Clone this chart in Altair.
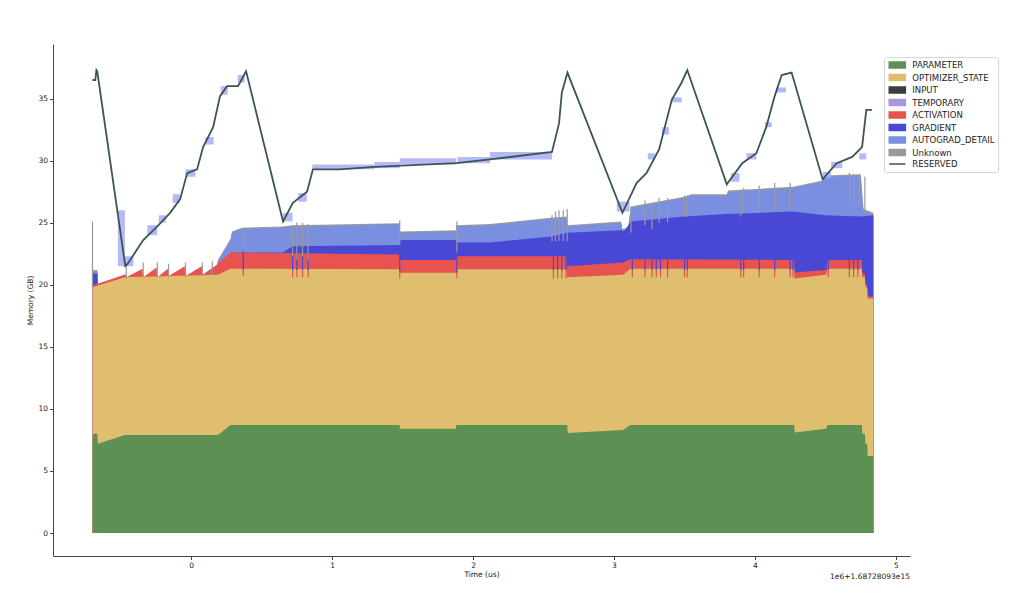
import altair as alt
import pandas as pd

# ---------------- data ----------------
categories = ["PARAMETER", "OPTIMIZER_STATE", "INPUT", "TEMPORARY", "ACTIVATION",
              "GRADIENT", "AUTOGRAD_DETAIL", "Unknown", "RESERVED"]
colors = ["#5d9053", "#dfbe70", "#3c3c3c", "#a896de", "#e8534f",
          "#4848d4", "#7a8fe0", "#9a9a9a", "#3b5552"]

# cumulative top of each stacked band (GB) vs time (1e6 us offset)
param_t = [-0.700, -0.697, -0.665, -0.662, -0.470, 0.190, 0.280, 1.479, 1.481, 1.879, 1.881,
           2.668, 2.672, 3.065, 3.115, 4.279, 4.281, 4.505, 4.515, 4.758, 4.762, 4.780, 4.784,
           4.796, 4.800, 4.840]
param_v = [7.3, 8.0, 8.0, 7.2, 7.9, 7.9, 8.7, 8.7, 8.4, 8.4, 8.7,
           8.7, 8.05, 8.3, 8.7, 8.7, 8.1, 8.4, 8.7, 8.7, 8.0, 8.0, 7.2,
           7.2, 6.2, 6.2]

opt_t = [-0.700, -0.470, 0.190, 0.280, 1.479, 1.481, 1.879, 1.881, 2.664, 2.668, 3.065, 3.115,
         4.279, 4.281, 4.505, 4.515, 4.758, 4.762, 4.780, 4.784, 4.796, 4.800, 4.840]
opt_v = [19.8, 20.6, 20.8, 21.3, 21.25, 20.97, 20.97, 21.25, 21.25, 20.6, 20.8, 21.3,
         21.3, 20.5, 20.8, 21.3, 21.3, 20.6, 20.6, 19.8, 19.8, 18.9, 18.9]

act_t = [-0.700, -0.465, -0.460, -0.345, -0.340, -0.245, -0.240, -0.165, -0.160, -0.045, -0.040,
         0.075, 0.080, 0.180, 0.280, 1.479, 1.481, 1.879, 1.881, 2.664, 2.668, 3.065, 3.115,
         4.279, 4.281, 4.505, 4.515, 4.758, 4.762, 4.780, 4.784, 4.796, 4.800, 4.840]
act_v = [19.95, 20.85, 20.6, 21.3, 20.6, 21.4, 20.6, 21.3, 20.7, 21.5, 20.7,
         21.5, 20.8, 21.6, 22.6, 22.45, 22.0, 22.0, 22.3, 22.3, 21.5, 21.8, 22.05,
         22.0, 21.0, 21.2, 22.0, 22.0, 20.9, 20.9, 20.0, 20.0, 19.05, 19.05]

grad_t = [-0.700, -0.697, -0.665, -0.662, 0.180, 0.280, 0.650, 0.720, 1.479, 1.481, 1.879, 1.881,
          2.120, 2.550, 2.668, 3.050, 3.070, 3.120, 3.500, 3.800, 4.270, 4.500, 4.750, 4.840]
grad_v = [19.95, 20.9, 20.9, 19.9, 20.5, 22.6, 22.6, 23.1, 23.2, 23.6, 23.6, 23.4,
          23.4, 23.9, 24.2, 24.4, 24.3, 25.1, 25.5, 25.7, 25.9, 25.6, 25.5, 25.6]

auto_t = [-0.700, -0.697, -0.665, -0.662, 0.170, 0.190, 0.280, 0.290, 0.360, 0.650, 0.720,
          1.479, 1.481, 1.879, 1.881, 2.120, 2.550, 2.664, 2.668, 3.050, 3.060, 3.100, 3.120,
          3.500, 3.550, 3.800, 3.810, 4.270, 4.480, 4.490, 4.750, 4.770, 4.840]
auto_v = [19.95, 21.1, 21.1, 19.9, 20.5, 21.9, 23.6, 24.2, 24.5, 24.6, 24.7,
          24.85, 24.2, 24.3, 24.7, 24.8, 25.3, 25.4, 24.7, 25.0, 24.4, 24.5, 26.2,
          27.0, 27.2, 27.2, 27.5, 27.8, 28.3, 28.7, 28.8, 26.0, 25.6]

unk_t = [-0.700, -0.665, -0.662, 0.170, 0.190, 0.280, 0.290, 0.360, 0.650, 0.720,
         1.479, 1.481, 1.879, 1.881, 2.120, 2.550, 2.664, 2.668, 3.050, 3.060, 3.100, 3.120,
         3.500, 3.550, 3.800, 3.810, 4.270, 4.480, 4.490, 4.750, 4.770, 4.840]
unk_v = [21.2, 21.2, 20.0, 20.6, 22.0, 23.7, 24.3, 24.6, 24.7, 24.8,
         24.95, 24.3, 24.4, 24.8, 24.9, 25.4, 25.5, 24.8, 25.1, 24.5, 24.6, 26.3,
         27.1, 27.3, 27.3, 27.6, 27.9, 28.4, 28.8, 28.9, 26.1, 25.8]

# short-lived allocations seen as thin vertical spikes
spk_u_t = [-0.700, -0.460, -0.340, -0.240, -0.160, -0.040, 0.080, 0.150, 0.370, 0.720, 0.750,
           0.790, 0.830, 1.480, 1.885, 2.560, 2.585, 2.610, 2.640, 2.668, 3.120, 3.220, 3.270,
           3.320, 3.380, 3.500, 3.520, 3.900, 3.920, 4.030, 4.140, 4.250, 4.670, 4.700, 4.740,
           4.780]
spk_u_lo = [19.9, 20.5, 20.6, 20.6, 20.6, 20.6, 20.7, 20.8, 23.1, 22.3, 22.0,
            22.3, 22.0, 23.2, 22.6, 23.5, 23.5, 23.5, 23.5, 23.5, 24.2, 24.8, 24.5,
            25.0, 25.0, 25.5, 25.5, 25.5, 25.8, 25.9, 26.0, 26.0, 26.5, 26.0, 26.3,
            25.7]
spk_u_hi = [25.1, 21.7, 21.8, 21.8, 21.7, 21.8, 21.8, 21.9, 24.6, 24.8, 25.0,
            25.0, 24.9, 25.2, 25.1, 25.6, 25.9, 26.0, 26.0, 26.1, 26.3, 26.8, 26.6,
            27.0, 27.0, 27.2, 27.2, 27.7, 27.8, 28.0, 28.2, 28.2, 29.0, 28.9, 28.9,
            28.7]

spk_g_t = [0.370, 0.720, 0.750, 0.790, 0.830, 1.480, 1.885, 2.570, 2.600, 2.630, 2.660, 3.130,
           3.220, 3.270, 3.300, 3.330, 3.380, 3.500, 3.520, 3.900, 3.920, 4.030, 4.140, 4.250,
           4.270, 4.520, 4.670, 4.700, 4.730]
spk_g_lo = [21.2, 21.2, 21.2, 21.2, 21.2, 21.1, 21.0, 21.2, 21.2, 21.2, 21.2, 21.2,
            21.2, 21.2, 21.2, 21.2, 21.2, 21.2, 21.2, 21.2, 21.2, 21.2, 21.2, 21.2,
            21.2, 21.2, 21.2, 21.2, 21.2]
spk_g_hi = [22.7, 22.7, 22.7, 22.7, 22.7, 22.5, 22.4, 22.5, 22.5, 22.5, 22.5, 22.3,
            22.3, 22.3, 22.2, 22.2, 22.2, 22.2, 22.2, 22.2, 22.2, 22.2, 22.2, 22.2,
            22.2, 22.3, 22.2, 22.2, 22.2]
spk_a_lo = [20.7, 20.6, 20.6, 20.6, 20.6, 20.5, 20.5, 20.5, 20.5, 20.5, 20.5, 20.6,
            20.6, 20.6, 20.6, 20.6, 20.6, 20.6, 20.6, 20.6, 20.6, 20.6, 20.6, 20.6,
            20.6, 20.6, 20.6, 20.6, 20.6]
spk_a_hi = [21.3, 21.3, 21.3, 21.3, 21.3, 21.2, 21.2, 21.3, 21.3, 21.3, 21.3, 21.3,
            21.3, 21.3, 21.3, 21.3, 21.3, 21.3, 21.3, 21.3, 21.3, 21.3, 21.3, 21.3,
            21.3, 21.3, 21.3, 21.3, 21.3]

# light patches along the reserved curve
tmp_t0 = [-0.52, -0.47, -0.31, -0.23, -0.13, -0.04, 0.10, 0.21, 0.33, 0.65, 0.76, 0.86, 1.30,
          1.48, 1.89, 2.12, 3.02, 3.24, 3.34, 3.41, 3.83, 3.94, 4.07, 4.15, 4.48, 4.54, 4.74]
tmp_t1 = [-0.47, -0.41, -0.24, -0.18, -0.08, 0.03, 0.16, 0.26, 0.38, 0.72, 0.82, 1.30, 1.48,
          1.88, 2.12, 2.56, 3.11, 3.29, 3.39, 3.48, 3.89, 4.01, 4.12, 4.22, 4.54, 4.62, 4.79]
tmp_lo = [21.5, 21.5, 24.0, 25.0, 26.6, 28.7, 31.3, 35.3, 36.3, 25.1, 26.7, 29.3, 29.4,
          29.7, 29.8, 30.1, 25.9, 30.1, 32.1, 34.7, 28.3, 30.1, 32.7, 35.5, 28.6, 29.4, 30.1]
tmp_hi = [26.0, 22.3, 24.8, 25.6, 27.3, 29.3, 31.9, 36.0, 36.9, 25.8, 27.4, 29.7, 29.9,
          30.2, 30.3, 30.7, 26.7, 30.6, 32.7, 35.1, 29.0, 30.6, 33.1, 35.9, 29.1, 29.9, 30.6]

res_t = [-0.700, -0.680, -0.672, -0.666, -0.467, -0.450, -0.340, -0.240, -0.149, -0.078, -0.028,
         0.042, 0.085, 0.156, 0.205, 0.255, 0.333, 0.390, 0.652, 0.722, 0.822, 0.864, 1.055,
         1.300, 1.880, 2.120, 2.560, 2.610, 2.630, 2.670, 3.060, 3.160, 3.230, 3.320, 3.410,
         3.480, 3.520, 3.800, 3.910, 4.010, 4.080, 4.140, 4.190, 4.260, 4.480, 4.580, 4.690,
         4.760, 4.790, 4.830]
res_v = [36.5, 36.5, 37.3, 37.2, 21.5, 21.7, 23.6, 24.7, 25.8, 26.9, 29.0,
         29.3, 31.1, 32.7, 35.2, 36.0, 36.0, 37.2, 25.1, 26.6, 27.5, 29.3, 29.3,
         29.5, 29.8, 30.1, 30.7, 33.0, 35.5, 37.1, 25.8, 28.2, 29.0, 30.9, 34.9,
         36.3, 37.3, 28.1, 29.8, 30.6, 32.7, 35.2, 36.9, 37.1, 28.5, 29.8, 30.3,
         31.1, 34.1, 34.1]

x_ticks = [0, 1, 2, 3, 4, 5]
y_ticks = [0, 5, 10, 15, 20, 25, 30, 35]

# ---------------- chart ----------------
FONT = "DejaVu Sans"
x_scale = alt.Scale(domain=[-0.98, 5.1], nice=False, zero=False)
y_scale = alt.Scale(domain=[-1.85, 39.4], nice=False, zero=False)
x_axis = alt.Axis(values=x_ticks, format="d", title="Time (us)", grid=False, tickSize=3.5,
                  labelPadding=2, titlePadding=1, titleFontWeight=400, titleFont=FONT,
                  titleFontSize=7.5, labelFont=FONT, labelFontSize=7.5)
y_axis = alt.Axis(values=y_ticks, format="d", title="Memory (GB)", grid=False, tickSize=3.5,
                  labelPadding=2, titlePadding=3, titleFontWeight=400, titleFont=FONT,
                  titleFontSize=7.5, labelFont=FONT, labelFontSize=7.5)
color_scale = alt.Scale(domain=categories, range=colors)

legend = alt.Legend(
    title=None, orient="none", legendX=831, legendY=13,
    symbolType=alt.ExprRef(expr="datum.value === 'RESERVED' ? 'M-1.9,0H1.9' : 'M-1.9,-0.7H1.9V0.7H-1.9Z'"),
    symbolStrokeColor=alt.ExprRef(expr="scale('color', datum.value)"),
    symbolStrokeWidth=1.5, symbolSize=72, symbolOffset=5.3, symbolOpacity=1,
    labelFont=FONT, labelFontSize=8.5, labelColor="#222222", labelOffset=10, labelLimit=200,
    rowPadding=0.5, padding=3, strokeColor="#d6d6d6", fillColor="#ffffff", cornerRadius=2,
)


def band(cat, ts, vs):
    df = pd.DataFrame({"t": ts, "v": vs, "category": cat})
    return alt.Chart(df).mark_area(opacity=1, interpolate="linear").encode(
        x=alt.X("t:Q", scale=x_scale, axis=x_axis),
        y=alt.Y("v:Q", scale=y_scale, axis=y_axis, stack=None),
        color=alt.Color("category:N", scale=color_scale, legend=legend),
    )


def spikes(cat, ts, lo, hi):
    df = pd.DataFrame({"t": ts, "lo": lo, "hi": hi, "category": cat})
    return alt.Chart(df).mark_rule(strokeWidth=1.2).encode(
        x=alt.X("t:Q", scale=x_scale),
        y=alt.Y("lo:Q", scale=y_scale),
        y2="hi:Q",
        color=alt.Color("category:N", scale=color_scale, legend=None),
    )


areas = [
    band("Unknown", unk_t, unk_v),
    band("AUTOGRAD_DETAIL", auto_t, auto_v),
    band("GRADIENT", grad_t, grad_v),
    band("ACTIVATION", act_t, act_v),
    band("OPTIMIZER_STATE", opt_t, opt_v),
    band("PARAMETER", param_t, param_v),
]

spike_layers = [
    spikes("ACTIVATION", spk_g_t, spk_a_lo, spk_a_hi),
    spikes("GRADIENT", spk_g_t, spk_g_lo, spk_g_hi),
    spikes("Unknown", spk_u_t, spk_u_lo, spk_u_hi),
]

tmp_df = pd.DataFrame({"t0": tmp_t0, "t1": tmp_t1, "lo": tmp_lo, "hi": tmp_hi})
patches = alt.Chart(tmp_df).mark_rect(color="#a9adf6", opacity=0.85).encode(
    x=alt.X("t0:Q", scale=x_scale), x2="t1:Q",
    y=alt.Y("lo:Q", scale=y_scale), y2="hi:Q",
)

res_df = pd.DataFrame({"t": res_t, "v": res_v, "category": "RESERVED"})
reserved = alt.Chart(res_df).mark_line(strokeWidth=1.8, interpolate="linear").encode(
    x=alt.X("t:Q", scale=x_scale),
    y=alt.Y("v:Q", scale=y_scale),
    color=alt.Color("category:N", scale=color_scale, legend=None),
)

chart = alt.layer(*areas, *spike_layers, patches, reserved).properties(
    width=857, height=512,
    background="#ffffff",
    autosize=alt.AutoSizeParams(type="none"),
    padding={"left": 45, "top": 36, "right": 100, "bottom": 33},
    title=alt.TitleParams("1e6+1.68728093e15", orient="bottom", anchor="end", frame="group",
                          fontSize=7.5, fontWeight=400, font=FONT, color="#222222",
                          offset=-5),
).configure_view(strokeWidth=0, stroke="transparent").configure_axis(
    labelColor="#222222", titleColor="#222222",
    domainColor="#444444", tickColor="#444444", domainWidth=1,
)

chart.save("out.html", embed_options={"renderer": "svg", "actions": False})
